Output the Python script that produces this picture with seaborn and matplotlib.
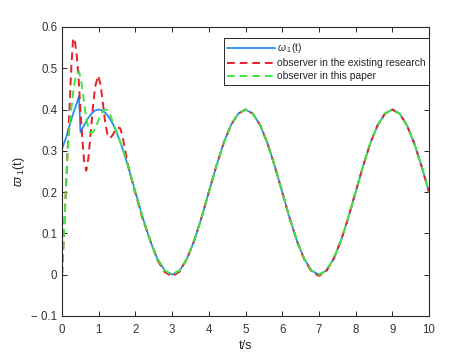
import numpy as np
import pandas as pd
import matplotlib
matplotlib.use("Agg")
import matplotlib.pyplot as plt
import seaborn as sns

# shared time samples after the transient (t >= 2 s)
t_late = [2.0, 2.2, 2.4, 2.6, 2.8, 3.0, 3.2, 3.4, 3.6, 3.8,
          4.0, 4.2, 4.4, 4.6, 4.8, 5.0, 5.2, 5.4, 5.6, 5.8,
          6.0, 6.2, 6.4, 6.6, 6.8, 7.0, 7.2, 7.4, 7.6, 7.8,
          8.0, 8.2, 8.4, 8.6, 8.8, 9.0, 9.2, 9.4, 9.6, 9.8, 10.0]
w_late = [0.200, 0.138, 0.082, 0.038, 0.010, 0.000, 0.010, 0.038, 0.082, 0.138,
          0.200, 0.262, 0.318, 0.362, 0.390, 0.400, 0.390, 0.362, 0.318, 0.262,
          0.200, 0.138, 0.082, 0.038, 0.010, 0.000, 0.010, 0.038, 0.082, 0.138,
          0.200, 0.262, 0.318, 0.362, 0.390, 0.400, 0.390, 0.362, 0.318, 0.262, 0.200]
red_late = [0.196, 0.134, 0.084, 0.035, 0.006, -0.004, 0.007, 0.038, 0.082, 0.138,
            0.200, 0.262, 0.318, 0.362, 0.390, 0.400, 0.390, 0.362, 0.318, 0.262,
            0.200, 0.138, 0.082, 0.037, 0.007, -0.003, 0.008, 0.038, 0.082, 0.138,
            0.200, 0.262, 0.318, 0.362, 0.390, 0.400, 0.390, 0.362, 0.318, 0.262, 0.200]

# transient part, t < 2 s
t_w = [0.0, 0.1, 0.2, 0.3, 0.4, 0.46, 0.5, 0.6, 0.7, 0.8, 0.9, 1.0,
       1.1, 1.2, 1.3, 1.4, 1.5, 1.6, 1.7, 1.8, 1.9]
w_early = [0.305, 0.330, 0.360, 0.390, 0.415, 0.433, 0.345, 0.362, 0.378, 0.390, 0.398, 0.400,
           0.398, 0.390, 0.378, 0.362, 0.341, 0.318, 0.291, 0.262, 0.231]

t_red = [0.0, 0.05, 0.1, 0.15, 0.2, 0.25, 0.3, 0.35, 0.4, 0.45, 0.5, 0.55, 0.6, 0.66,
         0.72, 0.78, 0.84, 0.9, 0.98, 1.05, 1.12, 1.18, 1.24, 1.31, 1.38, 1.45,
         1.52, 1.58, 1.65, 1.72, 1.8, 1.9]
red_early = [0.000, 0.100, 0.200, 0.300, 0.400, 0.500, 0.573, 0.565, 0.530, 0.475, 0.400, 0.330, 0.275, 0.252,
             0.285, 0.345, 0.405, 0.455, 0.482, 0.460, 0.410, 0.365, 0.338, 0.331, 0.338, 0.350,
             0.356, 0.355, 0.335, 0.300, 0.265, 0.228]

t_green = [0.0, 0.05, 0.1, 0.15, 0.2, 0.25, 0.3, 0.35, 0.4, 0.46, 0.52, 0.58, 0.64, 0.7,
           0.76, 0.81, 0.88, 0.95, 1.02, 1.1, 1.17, 1.24, 1.32, 1.4, 1.5, 1.6, 1.7, 1.8, 1.9]
green_early = [0.000, 0.100, 0.200, 0.295, 0.355, 0.400, 0.440, 0.470, 0.487, 0.492, 0.470, 0.430, 0.390, 0.362,
               0.347, 0.343, 0.350, 0.365, 0.382, 0.395, 0.400, 0.398, 0.385, 0.365, 0.342, 0.318, 0.291, 0.262, 0.231]

labels = [r'$\omega_{\ 1}$(t)', 'observer in the existing research', 'observer in this paper']

sns.set_style('ticks')
plt.rcParams['font.family'] = ['Liberation Sans', 'DejaVu Sans']
plt.rcParams['mathtext.fontset'] = 'custom'
plt.rcParams['mathtext.it'] = 'Liberation Sans:italic'
plt.rcParams['mathtext.rm'] = 'Liberation Sans'

df_w = pd.DataFrame({'t': t_w + t_late, 'v': w_early + w_late})
df_r = pd.DataFrame({'t': t_red + t_late, 'v': red_early + red_late})
df_g = pd.DataFrame({'t': t_green + t_late, 'v': green_early + w_late})

fig, ax = plt.subplots(figsize=(4.74, 3.55), dpi=100)
fig.subplots_adjust(left=0.131, right=0.905, bottom=0.110, top=0.924)

sns.lineplot(data=df_w, x='t', y='v', ax=ax, color='#2b8ef0', lw=1.3,
             sort=False, estimator=None, label=labels[0])
sns.lineplot(data=df_r, x='t', y='v', ax=ax, color='#e8202a', lw=1.4,
             sort=False, estimator=None, label=labels[1], dashes=False)
sns.lineplot(data=df_g, x='t', y='v', ax=ax, color='#3ee63e', lw=1.4,
             sort=False, estimator=None, label=labels[2], dashes=False)
ax.lines[1].set_dashes([4, 2.5])
ax.lines[2].set_dashes([4, 2.5])

ax.set_xlim(0, 10)
ax.set_ylim(-0.1, 0.6)
ax.set_xticks(np.arange(0, 11, 1))
ax.set_yticks([-0.1, 0, 0.1, 0.2, 0.3, 0.4, 0.5, 0.6])
ax.set_yticklabels(['\u2212 0.1', '0', '0.1', '0.2', '0.3', '0.4', '0.5', '0.6'])
ax.tick_params(direction='in', length=3.5, width=0.7, labelsize=8.3,
               top=True, right=True, colors='#262626', labelcolor='#333333')
ax.tick_params(axis='x', pad=6)
for s in ax.spines.values():
    s.set_visible(True)
    s.set_linewidth(0.8)
    s.set_color('#262626')

ax.set_xlabel('t/s', fontsize=9, color='#262626', labelpad=3)
ax.set_ylabel(r'$\varpi_{\ 1}$(t)', fontsize=9, color='#262626', labelpad=3)

leg = ax.legend(loc='upper right', bbox_to_anchor=(1.0, 0.963), fontsize=7.4,
                frameon=True, fancybox=False, framealpha=1, edgecolor='#262626',
                handlelength=4.6, handletextpad=0.2, borderpad=0.35, labelspacing=0.3,
                borderaxespad=0.0)
leg.get_frame().set_linewidth(0.7)

fig.savefig('out.png', dpi=100)
